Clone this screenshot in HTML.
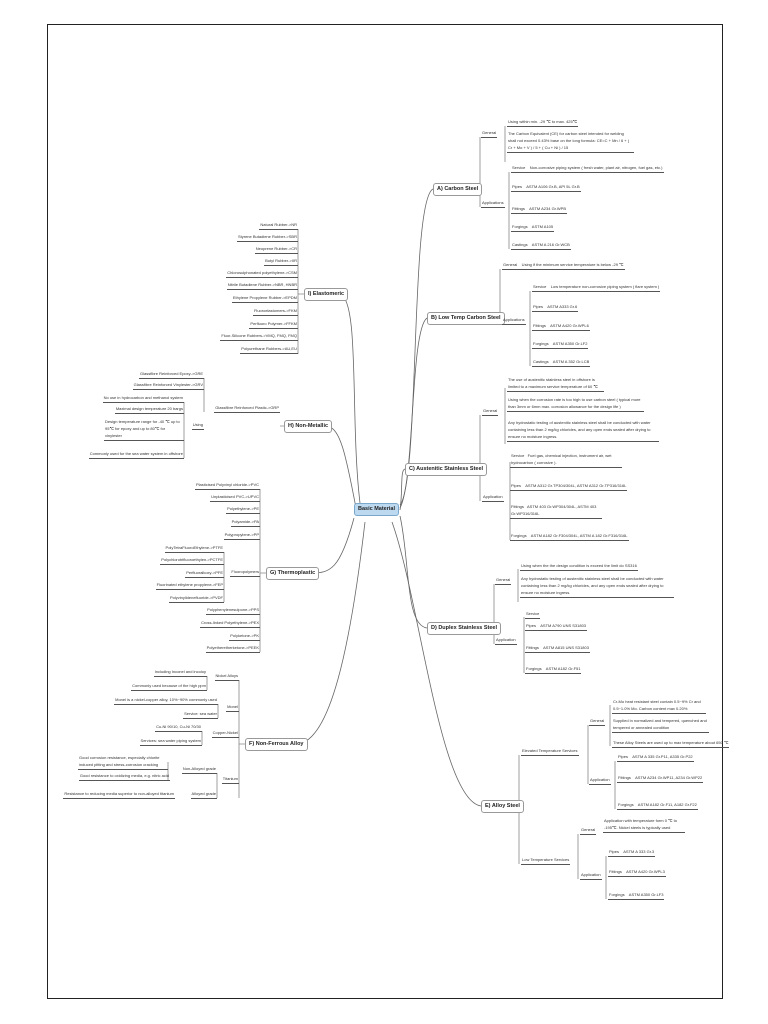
<!DOCTYPE html>
<html><head><meta charset="utf-8"><style>
body{margin:0;background:#fff;width:768px;height:1024px;position:relative;overflow:hidden;font-family:"Liberation Sans",sans-serif;}
.frame{position:absolute;left:47px;top:24px;width:674px;height:973px;border:1px solid #222;}
.l{position:absolute;font-size:4px;line-height:6px;color:#333;white-space:nowrap;border-bottom:1px solid #555;padding:0 1px 1px 1px;}
.m{white-space:normal;line-height:7px;}
.r{text-align:right;}
.n{position:absolute;font-size:5.5px;font-weight:bold;color:#222;background:#fff;border:1px solid #999;border-radius:3px;padding:2px 3px;white-space:nowrap;line-height:7px;}
svg{position:absolute;left:0;top:0;}
</style></head><body>
<div class="frame"></div>
<svg width="768" height="1024" fill="none" stroke="#666" stroke-width="0.8">
<path d="M400 505 C420 480,410 200,433 189"/>
<path d="M400 508 C415 480,410 330,427 318"/>
<path d="M400 510 C403 490,400 470,405 469"/>
<path d="M400 516 C410 560,405 625,427 628"/>
<path d="M392 522 C420 600,440 800,481 806"/>
<path d="M360 503 C350 420,360 300,340 294"/>
<path d="M356 508 C345 450,340 430,328 426"/>
<path d="M354 518 C340 570,330 573,311 573"/>
<path d="M365 522 C350 650,330 740,298 744"/>
<g stroke="#888">
<path d="M476 189H480M480 137V207M505 126V162M509 172V249"/>
<path d="M496 318H500M500 269V324M530 291V366"/>
<path d="M476 469H480M480 415V501M505 388V444M510 462V540"/>
<path d="M490 628H494M494 584V644M518 569V602M524 617V673"/>
<path d="M515 806H519M519 755V864M588 725V784M610 705V746M615 761V809M578 834V879M606 856V899"/>
<path d="M304 294H298M298 229V354"/>
<path d="M284 426H280M204 378V412M184 402V458"/>
<path d="M266 573H260M260 489V652M224 552V602"/>
<path d="M245 744H239M239 680V798M207 676V690M218 704V718M202 731V745M217 773V798M168 762V780"/>
</g>
</svg>
<div class="n" style="left:354px;top:503px;background:#bcd9f0;border-color:#7aa7cc;">Basic Material</div>
<div class="n" style="left:433px;top:183px;">A) Carbon Steel</div>
<div class="n" style="left:427px;top:312px;">B) Low Temp Carbon Steel</div>
<div class="n" style="left:405px;top:463px;">C) Austenitic Stainless Steel</div>
<div class="n" style="left:427px;top:622px;">D) Duplex Stainless Steel</div>
<div class="n" style="left:481px;top:800px;">E) Alloy Steel</div>
<div class="n" style="left:304px;top:288px;">I) Elastomeric</div>
<div class="n" style="left:284px;top:420px;">H) Non-Metallic</div>
<div class="n" style="left:266px;top:567px;">G) Thermoplastic</div>
<div class="n" style="left:245px;top:738px;">F) Non-Ferrous Alloy</div>

<!-- A -->
<span class="l" style="left:481px;top:130px">General</span>
<span class="l" style="left:507px;top:119px">Using within min. -29 ℃ to max. 425℃</span>
<span class="l m" style="left:507px;top:130px;width:125px">The Carbon Equivalent (CE) for carbon steel intended for welding shall not exceed 0.43% base on the long formula: CE=C + Mn / 6 + ( Cr + Mo + V ) / 5 + ( Cu + Ni ) / 15</span>
<span class="l" style="left:481px;top:200px">Applications</span>
<span class="l" style="left:511px;top:165px">Service &nbsp;&nbsp; Non-corrosive piping system ( fresh water, plant air, nitrogen, fuel gas, etc.)</span>
<span class="l" style="left:511px;top:184px">Pipes &nbsp;&nbsp; ASTM A106 Gr.B, API 5L Gr.B</span>
<span class="l" style="left:511px;top:206px">Fittings &nbsp;&nbsp; ASTM A234 Gr.WPB</span>
<span class="l" style="left:511px;top:224px">Forgings &nbsp;&nbsp; ASTM A105</span>
<span class="l" style="left:511px;top:242px">Castings &nbsp;&nbsp; ASTM A 216 Gr.WCB</span>
<!-- B -->
<span class="l" style="left:502px;top:262px">General &nbsp;&nbsp; Using if the minimum service temperature is below -29 ℃</span>
<span class="l" style="left:502px;top:317px">Applications</span>
<span class="l" style="left:532px;top:284px">Service &nbsp;&nbsp; Low temperature non-corrosive piping system ( flare system )</span>
<span class="l" style="left:532px;top:304px">Pipes &nbsp;&nbsp; ASTM A333 Gr.6</span>
<span class="l" style="left:532px;top:323px">Fittings &nbsp;&nbsp; ASTM A420 Gr.WPL6</span>
<span class="l" style="left:532px;top:341px">Forgings &nbsp;&nbsp; ASTM A350 Gr.LF2</span>
<span class="l" style="left:532px;top:359px">Castings &nbsp;&nbsp; ASTM A 352 Gr.LCB</span>
<!-- C -->
<span class="l" style="left:482px;top:408px">General</span>
<span class="l m" style="left:507px;top:376px;width:95px">The use of austenitic stainless steel in offshore is limited to a maximum service temperature of 60 ℃</span>
<span class="l m" style="left:507px;top:396px;width:135px">Using when the corrosion rate is too high to use carbon steel ( typical more than 3mm or 6mm max. corrosion allowance for the design life )</span>
<span class="l m" style="left:507px;top:419px;width:150px">Any hydrostatic testing of austenitic stainless steel shall be conducted with water containing less than 2 mg/kg chlorides, and any open ends sealed after drying to ensure no moisture ingress.</span>
<span class="l" style="left:482px;top:494px">Application</span>
<span class="l m" style="left:510px;top:452px;width:110px">Service &nbsp; Fuel gas, chemical injection, instrument air, wet hydrocarbon ( corrosive ).</span>
<span class="l" style="left:510px;top:483px">Pipes &nbsp;&nbsp; ASTM A312 Gr.TP304/304L, ASTM A312 Gr.TP316/316L</span>
<span class="l m" style="left:510px;top:503px;width:90px">Fittings &nbsp; ASTM 403 Gr.WP304/304L, ASTM 403 Gr.WP316/316L</span>
<span class="l" style="left:510px;top:533px">Forgings &nbsp;&nbsp; ASTM A182 Gr.F304/304L, ASTM A 182 Gr.F316/316L</span>
<!-- D -->
<span class="l" style="left:495px;top:577px">General</span>
<span class="l" style="left:520px;top:563px">Using when the the design condition is exceed the limit do SS316</span>
<span class="l m" style="left:520px;top:575px;width:152px">Any hydrostatic testing of austenitic stainless steel shall be conducted with water containing less than 2 mg/kg chlorides, and any open ends sealed after drying to ensure no moisture ingress.</span>
<span class="l" style="left:495px;top:637px">Application</span>
<span class="l" style="left:525px;top:611px">Service</span>
<span class="l" style="left:525px;top:623px">Pipes &nbsp;&nbsp; ASTM A790 UNS S31803</span>
<span class="l" style="left:525px;top:645px">Fittings &nbsp;&nbsp; ASTM A815 UNS S31803</span>
<span class="l" style="left:525px;top:666px">Forgings &nbsp;&nbsp; ASTM A182 Gr.F51</span>
<!-- E -->
<span class="l" style="left:521px;top:748px">Elevated Temperature Services</span>
<span class="l" style="left:589px;top:718px">General</span>
<span class="l m" style="left:612px;top:698px;width:92px">Cr-Mo heat resistant steel contain 0.5~9% Cr and 0.5~1.0% Mo. Carbon content max 0.20%</span>
<span class="l m" style="left:612px;top:717px;width:95px">Supplied in normalized and tempered, quenched and tempered or annealed condition</span>
<span class="l" style="left:612px;top:740px">These Alloy Steels are used up to max temperature about 650 ℃</span>
<span class="l" style="left:589px;top:777px">Application</span>
<span class="l" style="left:617px;top:754px">Pipes &nbsp;&nbsp; ASTM A 335 Gr.P11, A335 Gr.P22</span>
<span class="l" style="left:617px;top:775px">Fittings &nbsp;&nbsp; ASTM A234 Gr.WP11, A234 Gr.WP22</span>
<span class="l" style="left:617px;top:802px">Forgings &nbsp;&nbsp; ASTM A182 Gr.F11, A182 Gr.F22</span>
<span class="l" style="left:521px;top:857px">Low Temperature Services</span>
<span class="l" style="left:580px;top:827px">General</span>
<span class="l m" style="left:603px;top:817px;width:80px">Application with temperature form 0 ℃ to -195℃. Nickel steels is typically used</span>
<span class="l" style="left:580px;top:872px">Application</span>
<span class="l" style="left:608px;top:849px">Pipes &nbsp;&nbsp; ASTM A 333 Gr.3</span>
<span class="l" style="left:608px;top:869px">Fittings &nbsp;&nbsp; ASTM A420 Gr.WPL3</span>
<span class="l" style="left:608px;top:892px">Forgings &nbsp;&nbsp; ASTM A350 Gr.LF3</span>

<!-- I -->
<span class="l r" style="right:470px;top:222px">Natural Rubber-&gt;NR</span>
<span class="l r" style="right:470px;top:234px">Styrene Butadiene Rubber-&gt;SBR</span>
<span class="l r" style="right:470px;top:246px">Neoprene Rubber-&gt;CR</span>
<span class="l r" style="right:470px;top:258px">Butyl Rubber-&gt;IIR</span>
<span class="l r" style="right:470px;top:270px">Chlorosulphonated polyethylene-&gt;CSM</span>
<span class="l r" style="right:470px;top:282px">Nitrile Butadiene Rubber-&gt;NBR, HNBR</span>
<span class="l r" style="right:470px;top:295px">Ethylene Propylene Rubber-&gt;EPDM</span>
<span class="l r" style="right:470px;top:308px">Fluoroelastomers-&gt;FKM</span>
<span class="l r" style="right:470px;top:321px">Perfluoro Polymer-&gt;FFKM</span>
<span class="l r" style="right:470px;top:333px">Fluor-Silicone Rubbers-&gt;VMQ, FMQ, FMQ</span>
<span class="l r" style="right:470px;top:346px">Polyurethane Rubbers-&gt;AU,EU</span>
<!-- H -->
<span class="l r" style="right:488px;top:405px">Glassfibre Reinforced Plastic-&gt;GRP</span>
<span class="l r" style="right:564px;top:371px">Glassfibre Reinforced Epoxy-&gt;GRE</span>
<span class="l r" style="right:564px;top:382px">Glassfibre Reinforced Vinylester-&gt;GRV</span>
<span class="l r" style="right:564px;top:422px">Using</span>
<span class="l r" style="right:584px;top:395px">No use in hydrocarbon and methanol system</span>
<span class="l r" style="right:584px;top:406px">Maximal design temperature 20 bargs</span>
<span class="l m" style="right:584px;top:418px;width:78px">Design temperature range for -40 ℃ up to 95℃ for epoxy and up to 80℃ for vinylester</span>
<span class="l r" style="right:584px;top:451px">Commonly used for the sea water system in offshore</span>
<!-- G -->
<span class="l r" style="right:508px;top:482px">Plasticised Polyvinyl chloride-&gt;PVC</span>
<span class="l r" style="right:508px;top:494px">Unplasticised PVC-&gt;UPVC</span>
<span class="l r" style="right:508px;top:506px">Polyethylene-&gt;PE</span>
<span class="l r" style="right:508px;top:519px">Polyamide-&gt;PA</span>
<span class="l r" style="right:508px;top:532px">Polypropylene-&gt;PP</span>
<span class="l r" style="right:508px;top:569px">Fluoropolymers</span>
<span class="l r" style="right:544px;top:545px">PolyTetraFluoroEthylene-&gt;PTFE</span>
<span class="l r" style="right:544px;top:557px">Polychlorotrifluoroethylen-&gt;PCTFE</span>
<span class="l r" style="right:544px;top:570px">Perfluoralkoxy-&gt;PFE</span>
<span class="l r" style="right:544px;top:582px">Fluorinated ethylene propylene-&gt;FEP</span>
<span class="l r" style="right:544px;top:595px">Polyvinylidenefluoride-&gt;PVDF</span>
<span class="l r" style="right:508px;top:607px">Polyphenylenesulpone-&gt;PPS</span>
<span class="l r" style="right:508px;top:620px">Cross-linked Polyethylene-&gt;PEX</span>
<span class="l r" style="right:508px;top:633px">Polyketone-&gt;PK</span>
<span class="l r" style="right:508px;top:645px">Polyetheretherketone-&gt;PEEK</span>
<!-- F -->
<span class="l r" style="right:529px;top:673px">Nickel Alloys</span>
<span class="l r" style="right:561px;top:669px">Including Inconel and incoloy</span>
<span class="l r" style="right:561px;top:683px">Commonly used because of the high ppm</span>
<span class="l r" style="right:529px;top:704px">Monel</span>
<span class="l r" style="right:550px;top:697px">Monel is a nickel-copper alloy, 10%~90% commonly used</span>
<span class="l r" style="right:550px;top:711px">Service: sea water</span>
<span class="l r" style="right:529px;top:730px">Copper-Nickel</span>
<span class="l r" style="right:566px;top:724px">Cu-Ni 90/10, Cu-Ni 70/30</span>
<span class="l r" style="right:566px;top:738px">Services: sea water piping system</span>
<span class="l r" style="right:529px;top:776px">Titanium</span>
<span class="l r" style="right:551px;top:766px">Non-Alloyed grade</span>
<span class="l m" style="right:600px;top:754px;width:88px">Good corrosion resistance, especially chlorite induced pitting and stress-corrosion cracking</span>
<span class="l r" style="right:598px;top:773px">Good resistance to oxidizing media, e.g. nitric acid</span>
<span class="l r" style="right:551px;top:791px">Alloyed grade</span>
<span class="l r" style="right:593px;top:791px">Resistance to reducing media superior to non-alloyed titanium</span>
</body></html>
